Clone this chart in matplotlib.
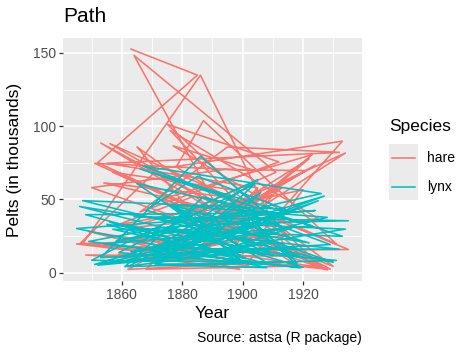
import matplotlib
matplotlib.use("Agg")
import matplotlib.pyplot as plt
import numpy as np
from matplotlib.lines import Line2D
from matplotlib.patches import Rectangle

plt.rcParams["font.family"] = ["Liberation Sans", "DejaVu Sans"]

# Hudson Bay pelts, astsa Hare / Lynx, 1845-1935 (thousands)
years = np.arange(1845, 1936)
hare = [19.58, 19.60, 19.61, 11.99, 28.04, 58.00, 74.60, 75.09, 88.48, 61.28,
        74.67, 88.06, 68.51, 32.19, 12.64, 21.49, 30.35, 2.18, 152.65, 148.36,
        85.81, 41.41, 14.75, 2.28, 5.91, 9.95, 10.44, 70.64, 50.12, 50.13,
        101.25, 97.12, 86.51, 72.17, 38.32, 10.11, 7.74, 9.67, 43.12, 52.21,
        134.85, 134.86, 103.79, 46.10, 15.03, 24.20, 41.65, 52.34, 53.78, 70.40,
        85.81, 56.69, 16.59, 6.16, 2.30, 12.82, 4.72, 4.73, 37.22, 69.72,
        57.78, 28.68, 23.37, 21.54, 26.34, 53.10, 68.48, 75.58, 57.92, 40.97,
        24.95, 12.59, 4.97, 4.50, 11.21, 56.60, 69.63, 77.74, 80.53, 73.38,
        36.93, 4.64, 2.54, 1.80, 2.39, 4.23, 19.52, 82.11, 89.76, 81.66,
        15.76]
lynx = [30.09, 45.15, 49.15, 39.52, 21.23, 8.42, 5.56, 5.08, 10.17, 19.60,
        32.91, 34.38, 29.59, 21.30, 13.69, 7.65, 4.08, 4.09, 14.33, 38.22,
        60.78, 70.77, 72.77, 42.68, 16.39, 9.83, 5.80, 5.26, 18.91, 30.95,
        31.18, 46.34, 45.77, 44.15, 36.33, 12.03, 12.60, 18.34, 35.14, 43.77,
        65.69, 79.35, 51.65, 32.59, 22.45, 16.16, 14.12, 20.38, 33.33, 46.00,
        51.41, 46.43, 33.68, 18.01, 8.86, 7.13, 9.47, 14.86, 31.47, 60.57,
        63.51, 54.70, 6.30, 3.41, 5.44, 11.65, 20.35, 32.88, 39.55, 43.36,
        40.83, 30.36, 17.18, 6.82, 3.19, 3.52, 9.94, 20.30, 31.99, 42.36,
        49.08, 53.99, 52.25, 37.70, 19.14, 6.98, 8.31, 16.01, 24.82, 29.70,
        35.40]

# row order of the (shuffled) path, as year index
hare_order = [18, 40, 7, 63, 29, 85, 51, 12, 74, 3, 36, 68, 22, 90, 47, 9, 58, 31, 80, 15,
              44, 71, 1, 27, 88, 55, 19, 66, 38, 83, 5, 49, 76, 24, 61, 11, 86, 42, 33, 70,
              0, 53, 17, 79, 26, 64, 8, 46, 89, 35, 57, 14, 72, 41, 2, 82, 30, 67, 21, 50,
              87, 10, 60, 37, 77, 25, 54, 4, 84, 43, 16, 69, 32, 59, 6, 81, 48, 23, 73, 39,
              13, 65, 52, 28, 78, 45, 20, 62, 34, 75, 56]
lynx_order = [45, 3, 70, 21, 88, 12, 56, 34, 79, 0, 63, 27, 49, 84, 8, 41, 67, 19, 90, 52,
              30, 75, 14, 59, 37, 82, 6, 46, 71, 24, 87, 10, 54, 32, 77, 1, 65, 43, 17, 86,
              28, 60, 39, 5, 73, 50, 22, 81, 13, 68, 35, 89, 48, 26, 62, 9, 78, 42, 16, 57,
              33, 85, 2, 69, 40, 23, 76, 53, 11, 64, 31, 83, 47, 18, 58, 7, 72, 36, 80, 25,
              61, 44, 15, 66, 29, 4, 74, 51, 20, 38, 55]

species = ["hare", "lynx"]
colors = ["#F8766D", "#00BFC4"]

W, H = 474, 355
fig = plt.figure(figsize=(W / 100, H / 100), dpi=100)
ax = fig.add_axes([63 / W, (H - 281) / H, (362 - 63) / W, (281 - 38) / H])
ax.set_facecolor("#EBEBEB")

for vals, order, c in zip([hare, lynx], [hare_order, lynx_order], colors):
    o = np.array(order)
    ax.plot(years[o], np.array(vals)[o], color=c, lw=1.15, solid_joinstyle="round", zorder=3)

ax.set_xlim(1840.5, 1939.5)
ax.set_ylim(-5.74, 160.2)
ax.set_xticks([1860, 1880, 1900, 1920])
ax.set_yticks([0, 50, 100, 150])
ax.set_xticks([1850, 1870, 1890, 1910, 1930], minor=True)
ax.set_yticks([25, 75, 125], minor=True)
ax.grid(which="major", color="white", lw=1.1, zorder=1)
ax.grid(which="minor", color="white", lw=0.55, zorder=1)
ax.tick_params(which="major", length=3, width=0.9, color="#333333",
               labelcolor="#4D4D4D", labelsize=10, pad=2)
ax.tick_params(which="minor", length=0)
for s in ax.spines.values():
    s.set_visible(False)

fig.text(15 / W, 1 - 160 / H, "Pelts (in thousands)", rotation=90, ha="center", va="center", fontsize=12.5)
fig.text(212 / W, 1 - 314 / H, "Year", ha="center", va="center", fontsize=12.5)
fig.text(63 / W, 1 - 17 / H, "Path", ha="left", va="center", fontsize=15)
fig.text(362 / W, 1 - 338 / H, "Source: astsa (R package)", ha="right", va="center", fontsize=10)

# legend
fig.text(389 / W, 1 - 127 / H, "Species", ha="left", va="center", fontsize=12.5)
fig.patches.append(Rectangle((389 / W, 1 - 200 / H), 29 / W, 56 / H,
                             transform=fig.transFigure, facecolor="#EBEBEB", edgecolor="none"))
for name, c, yy in zip(species, colors, [158, 187]):
    fig.lines.append(Line2D([392 / W, 415 / W], [1 - yy / H, 1 - yy / H],
                            transform=fig.transFigure, color=c, lw=1.15))
    fig.text(427 / W, 1 - yy / H, name, ha="left", va="center", fontsize=10)

fig.savefig("out.png", dpi=100)
